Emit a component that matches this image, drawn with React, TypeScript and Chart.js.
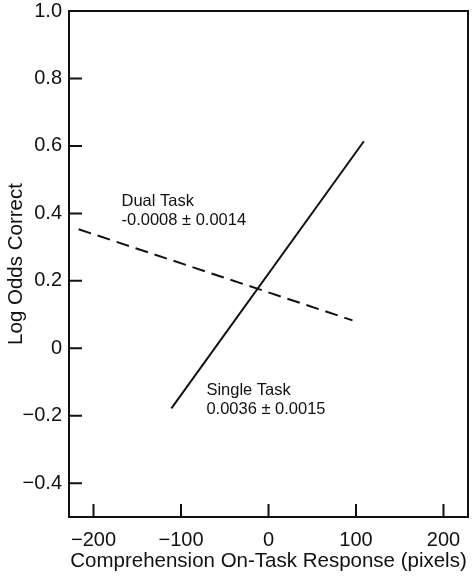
import React, { useEffect, useRef } from 'react';
import { Chart, registerables } from 'chart.js';

Chart.register(...registerables);

// fitted lines (pixels vs log odds)
const singleX = [-111, 109];
const singleY = [-0.178, 0.614];
const dualX = [-217, 96];
const dualY = [0.353, 0.083];

const xTickValues = [-200, -100, 0, 100, 200];
const xTickLabels = ['\u2212200', '\u2212100', '0', '100', '200'];
const yTickValues = [-0.4, -0.2, 0, 0.2, 0.4, 0.6, 0.8, 1.0];
const yTickLabels = ['\u22120.4', '\u22120.2', '0', '0.2', '0.4', '0.6', '0.8', '1.0'];

// annotation text, anchored at data coords (left x, baseline y)
const notes = [
  { text: 'Dual Task', x: -168, y: 0.421 },
  { text: '-0.0008 \u00b1 0.0014', x: -168, y: 0.365 },
  { text: 'Single Task', x: -71, y: -0.137 },
  { text: '0.0036 \u00b1 0.0015', x: -71, y: -0.196 },
];

const FONT = "'Liberation Sans', Arial, Helvetica, sans-serif";
const INK = '#111';

const framePlugin = {
  id: 'frame',
  afterDraw(chart: any) {
    const { ctx, chartArea: a, scales } = chart;
    ctx.save();
    ctx.strokeStyle = INK;
    ctx.lineWidth = 2;
    ctx.strokeRect(a.left, a.top, a.right - a.left, a.bottom - a.top);
    ctx.beginPath();
    scales.x.ticks.forEach((t: any) => {
      const px = scales.x.getPixelForValue(t.value);
      ctx.moveTo(px, a.bottom);
      ctx.lineTo(px, a.bottom - 13);
    });
    scales.y.ticks.forEach((t: any) => {
      const py = scales.y.getPixelForValue(t.value);
      ctx.moveTo(a.left, py);
      ctx.lineTo(a.left + 13, py);
    });
    ctx.stroke();
    ctx.fillStyle = INK;
    ctx.font = `16.5px ${FONT}`;
    ctx.textAlign = 'left';
    ctx.textBaseline = 'alphabetic';
    notes.forEach(n => {
      ctx.fillText(n.text, scales.x.getPixelForValue(n.x), scales.y.getPixelForValue(n.y));
    });
    ctx.restore();
  },
};

export default function App() {
  const canvasRef = useRef<HTMLCanvasElement>(null);
  const chartRef = useRef<Chart | null>(null);

  useEffect(() => {
    if (!canvasRef.current) return;
    if (chartRef.current) chartRef.current.destroy();

    const toPts = (xs: number[], ys: number[]) => xs.map((x, i) => ({ x, y: ys[i] }));

    chartRef.current = new Chart(canvasRef.current, {
      type: 'scatter',
      data: {
        datasets: [
          {
            label: 'Single Task',
            data: toPts(singleX, singleY),
            showLine: true,
            borderColor: INK,
            borderWidth: 2,
            pointRadius: 0,
          },
          {
            label: 'Dual Task',
            data: toPts(dualX, dualY),
            showLine: true,
            borderColor: INK,
            borderWidth: 2,
            borderDash: [13, 7],
            pointRadius: 0,
          },
        ],
      },
      options: {
        animation: false,
        responsive: true,
        maintainAspectRatio: false,
        layout: { padding: { top: 11, right: 6, left: 0, bottom: 0 } },
        plugins: { legend: { display: false }, tooltip: { enabled: false } },
        scales: {
          x: {
            type: 'linear',
            min: -228,
            max: 228,
            afterBuildTicks: (s: any) => { s.ticks = xTickValues.map(v => ({ value: v })); },
            afterFit: (s: any) => {
              s.height = 62;
              s.paddingLeft = 0;
              s.paddingRight = 0;
            },
            grid: { display: false, drawTicks: false },
            border: { display: false },
            ticks: {
              padding: 11,
              color: INK,
              font: { family: FONT, size: 20 },
              callback: (v: any) => xTickLabels[xTickValues.indexOf(Number(v))] ?? '',
            },
            title: {
              display: true,
              text: 'Comprehension On-Task Response (pixels)',
              color: INK,
              font: { family: FONT, size: 20.5 },
              padding: { top: 0, bottom: 5 },
            },
          },
          y: {
            type: 'linear',
            min: -0.5,
            max: 1.0,
            afterBuildTicks: (s: any) => { s.ticks = yTickValues.map(v => ({ value: v })); },
            afterFit: (s: any) => {
              s.width = 69;
              s.paddingTop = 0;
              s.paddingBottom = 0;
            },
            grid: { display: false, drawTicks: false },
            border: { display: false },
            ticks: {
              padding: 7,
              color: INK,
              font: { family: FONT, size: 20 },
              callback: (v: any) => {
                const i = yTickValues.findIndex(t => Math.abs(t - Number(v)) < 1e-9);
                return i >= 0 ? yTickLabels[i] : '';
              },
            },
            title: {
              display: true,
              text: 'Log Odds Correct',
              color: INK,
              font: { family: FONT, size: 20.5 },
              padding: { top: 4, bottom: 0 },
            },
          },
        },
      },
      plugins: [framePlugin],
    });

    return () => {
      if (chartRef.current) {
        chartRef.current.destroy();
        chartRef.current = null;
      }
    };
  }, []);

  return (
    <div style={{ position: 'absolute', left: 0, top: 0, width: 474, height: 579, background: '#fff' }}>
      <canvas ref={canvasRef} />
    </div>
  );
}
